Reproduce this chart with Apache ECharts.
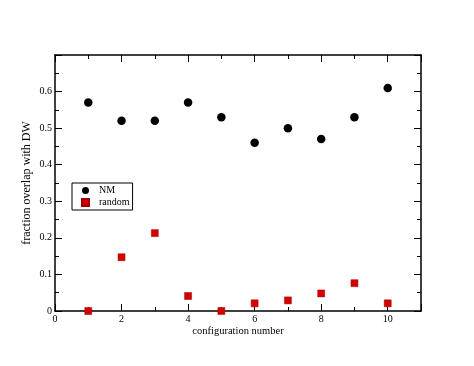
<!DOCTYPE html>
<html><head><meta charset="utf-8">
<script src="https://cdn.jsdelivr.net/npm/echarts@6/dist/echarts.min.js"></script>
<style>html,body{margin:0;padding:0;background:#fff}#c{width:474px;height:366px}</style>
</head><body><div id="c"></div>
<script>
const configs = [1,2,3,4,5,6,7,8,9,10];
const nmValues = [0.57,0.52,0.52,0.57,0.53,0.46,0.50,0.47,0.53,0.61];
const randomValues = [0.0,0.147,0.213,0.041,0.0,0.021,0.029,0.048,0.076,0.021];
const xTicks = [0,2,4,6,8,10];
const yTicks = ['0','0.1','0.2','0.3','0.4','0.5','0.6'];
const font = 'Liberation Serif';
const chart = echarts.init(document.getElementById('c'));
const axisLineStyle = {color:'#000', width:1.5};
const baseX = {
  type:'value', min:0, max:11, interval:2,
  axisLine:{show:true, onZero:false, lineStyle:axisLineStyle},
  axisTick:{show:true, inside:true, length:7, lineStyle:{color:'#000'}},
  minorTick:{show:true, splitNumber:2, length:4, lineStyle:{color:'#000'}},
  splitLine:{show:false},
};
const baseY = {
  type:'value', min:0, max:0.7, interval:0.1,
  axisLine:{show:true, onZero:false, lineStyle:axisLineStyle},
  axisTick:{show:true, inside:true, length:7, lineStyle:{color:'#000'}},
  minorTick:{show:true, splitNumber:2, length:4, lineStyle:{color:'#000'}},
  splitLine:{show:false},
};
chart.setOption({
  backgroundColor:'#fff',
  animation:false,
  grid:{left:55, top:55, right:53, bottom:55},
  xAxis:[
    Object.assign({}, baseX, {position:'bottom',
      name:'configuration number', nameLocation:'middle', nameGap:15, nameMoveOverlap:false,
      nameTextStyle:{fontFamily:font, fontSize:10.5, color:'#000'},
      axisLabel:{show:true, margin:3, fontFamily:font, fontSize:10, color:'#000',
        formatter:v => xTicks.includes(v) ? String(v) : ''}}),
    Object.assign({}, baseX, {position:'top', axisLabel:{show:false}})
  ],
  yAxis:[
    Object.assign({}, baseY, {position:'left',
      name:'fraction overlap with DW', nameLocation:'middle', nameGap:22, nameMoveOverlap:false,
      nameTextStyle:{fontFamily:font, fontSize:12, color:'#000'},
      axisLabel:{show:true, margin:3, fontFamily:font, fontSize:10, color:'#000',
        formatter:v => { const i = Math.round(v*10); return i < yTicks.length ? yTicks[i] : ''; }}}),
    Object.assign({}, baseY, {position:'right', axisLabel:{show:false}})
  ],
  legend:{
    orient:'vertical', left:72, top:183,
    borderColor:'#000', borderWidth:1, borderRadius:0,
    padding:[2,3,2,9], itemGap:1, itemWidth:7, itemHeight:7,
    textStyle:{fontFamily:font, fontSize:10, color:'#000', lineHeight:11, padding:[0,0,0,5]},
    data:[{name:'NM', icon:'circle'},{name:'random', icon:'rect'}]
  },
  series:[
    {name:'NM', type:'scatter', symbol:'circle', symbolSize:8.5,
     itemStyle:{color:'#000', opacity:1},
     data:configs.map((c,i)=>[c,nmValues[i]])},
    {name:'random', type:'scatter', symbol:'rect', symbolSize:7,
     itemStyle:{color:'#d40000', borderColor:'#a00000', borderWidth:0.5, opacity:1},
     data:configs.map((c,i)=>[c,randomValues[i]])}
  ]
});
</script></body></html>
